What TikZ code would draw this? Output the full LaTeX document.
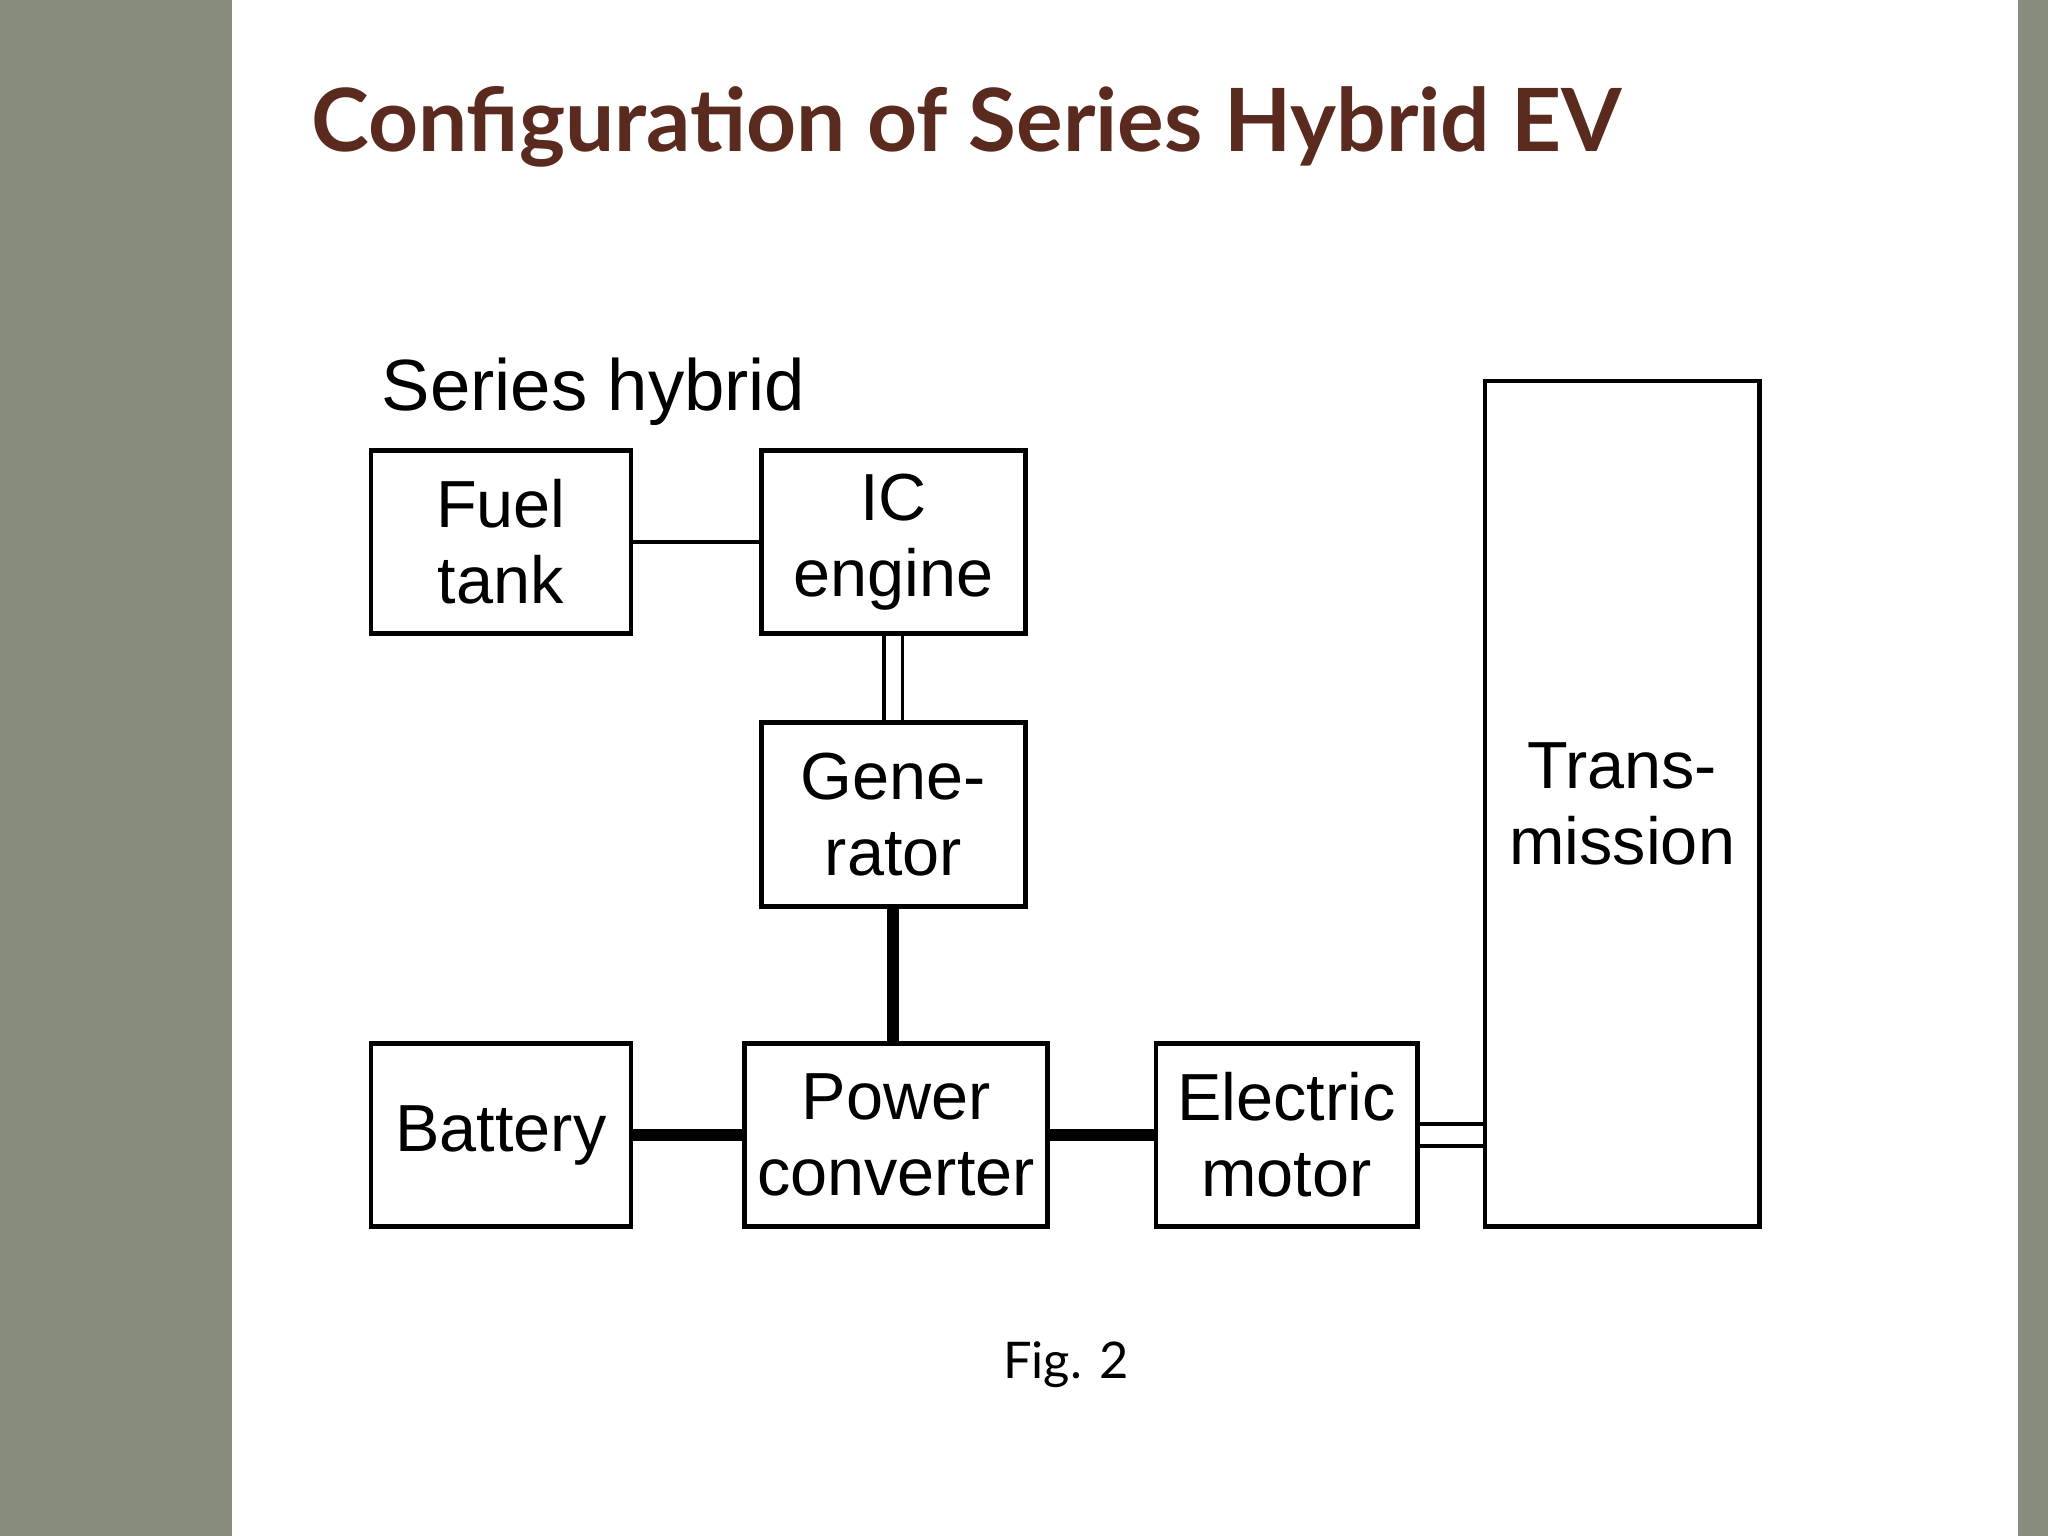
\documentclass[tikz,border=0pt]{standalone}
\usepackage{fontspec}
\setmainfont{Liberation Sans}
\newfontfamily\titlefont{Lato}
\definecolor{band}{HTML}{878C7C}
\definecolor{titlec}{HTML}{5A2A1E}
\tikzset{blk/.style={draw=black,line width=1pt,fill=white,align=center,font=\fontsize{14.5}{16.5}\selectfont,inner sep=0pt},
thin/.style={line width=0.8pt},
thick2/.style={line width=2.6pt}}
\begin{document}
\begin{tikzpicture}[x=0.01cm,y=-0.01cm]
\useasboundingbox (0,0) rectangle (1568,1176);
\fill[band] (0,0) rectangle (178,1176);
\fill[band] (1545,0) rectangle (1568,1176);
\node[anchor=west,text=titlec,font=\titlefont\bfseries\fontsize{19}{22}\selectfont] (title) at (226,97) {Configuration of Series Hybrid EV};
\node[anchor=west,font=\fontsize{15.8}{19}\selectfont] (sh) at (280,300) {Series hybrid};
\node[blk,minimum width=1.99cm,minimum height=1.40cm] (fuel) at (383.5,415) {Fuel\\tank};
\node[blk,minimum width=2.02cm,minimum height=1.40cm] (ic) at (684,415) {IC\\engine};
\node[blk,minimum width=2.02cm,minimum height=1.41cm] (gen) at (684,623.5) {Gene-\\rator};
\node[blk,minimum width=1.99cm,minimum height=1.40cm] (bat) at (383.5,869) {Battery};
\node[blk,minimum width=2.32cm,minimum height=1.40cm] (pc) at (686,869) {Power\\converter};
\node[blk,minimum width=2.00cm,minimum height=1.40cm] (em) at (985,869) {Electric\\motor};
\node[blk,minimum width=2.10cm,minimum height=6.47cm] (tr) at (1242,615.5) {Trans-\\mission};
\draw[thin] (fuel.east) -- (ic.west);
\draw[thin] ([xshift=-0.07cm]ic.south) -- ([xshift=-0.07cm]gen.north);
\draw[thin] ([xshift=0.07cm]ic.south) -- ([xshift=0.07cm]gen.north);
\draw[thick2] (gen.south) -- (gen.south |- pc.north);
\draw[thick2] (bat.east) -- (pc.west);
\draw[thick2] (pc.east) -- (em.west);
\draw[thin] ([yshift=0.085cm]em.east) -- ([yshift=0.085cm]em.east -| tr.west);
\draw[thin] ([yshift=-0.085cm]em.east) -- ([yshift=-0.085cm]em.east -| tr.west);
\node[font=\titlefont\fontsize{11}{13}\selectfont] (fig) at (816,1045) {Fig. 2};
\end{tikzpicture}
\end{document}
